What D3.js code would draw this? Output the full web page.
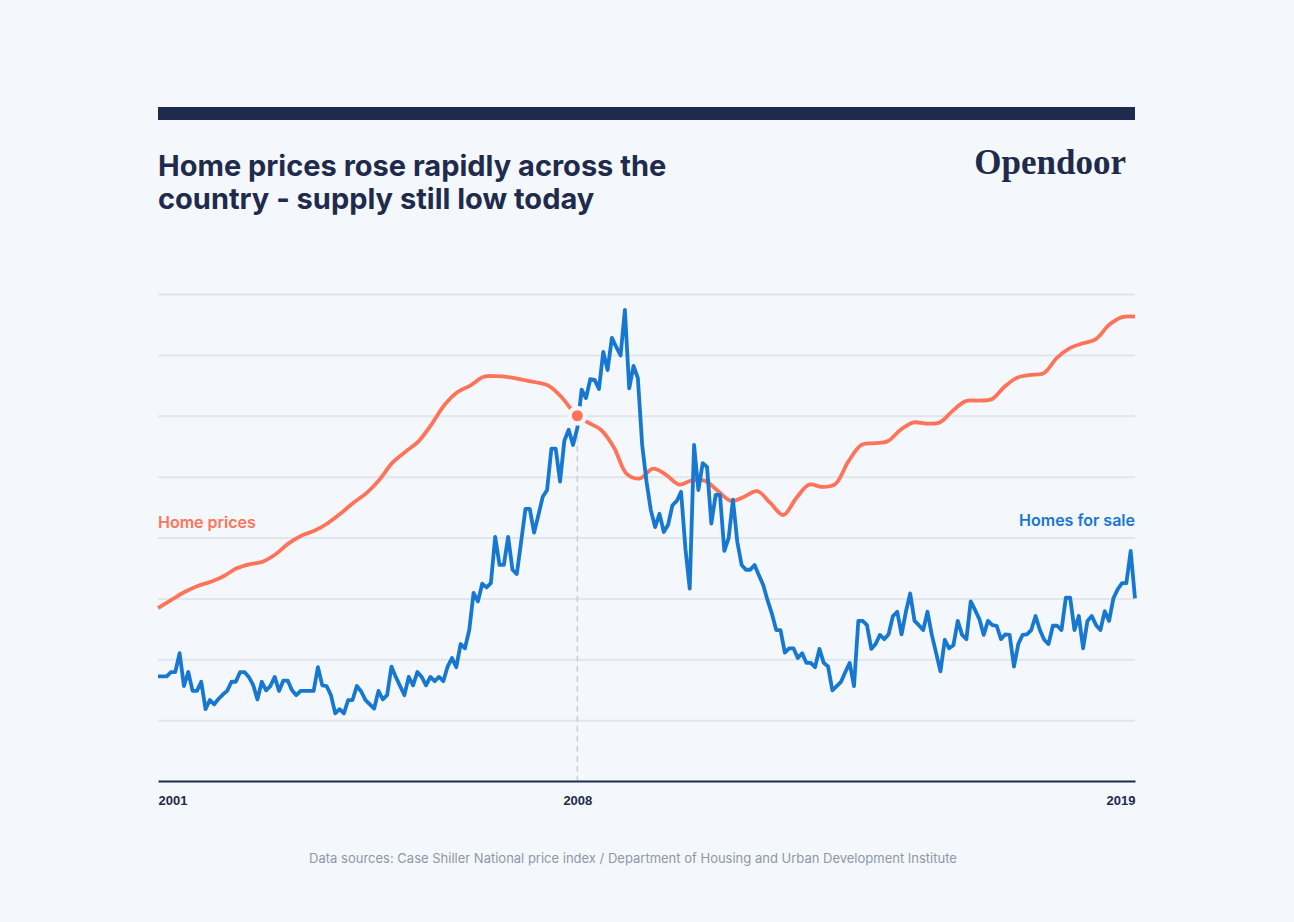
<!DOCTYPE html>
<html>
<head>
<meta charset="utf-8">
<script src="https://cdn.jsdelivr.net/npm/d3@7"></script>
<style>
  body { margin: 0; background: #f4f7fb; }
  svg { display: block; font-family: Inter, "Open Sans", sans-serif; }
</style>
</head>
<body>
<div id="chart"></div>
<script>
// homes for sale (monthly, 2001 -> 2019), arbitrary index units
const homesForSale = [
  17.2, 17.2, 17.2, 17.9, 17.9, 21.0, 15.6, 17.9, 14.8, 14.8,
  16.3, 11.8, 13.3, 12.6, 13.5, 14.2, 14.8, 16.3, 16.3, 17.9,
  17.9, 17.1, 15.8, 13.4, 16.3, 14.9, 15.6, 17.1, 14.8, 16.5,
  16.5, 14.9, 14.1, 14.8, 14.8, 14.8, 14.8, 18.7, 15.7, 15.6,
  14.1, 11.1, 11.8, 11.1, 13.3, 13.3, 15.6, 14.7, 13.3, 12.6,
  11.9, 14.8, 13.4, 14.1, 18.8, 17.1, 15.6, 14.1, 17.1, 15.7,
  17.9, 17.1, 15.7, 17.1, 16.4, 17.1, 16.4, 18.8, 20.2, 18.7,
  22.5, 21.8, 24.8, 30.9, 29.5, 32.4, 31.8, 32.5, 40.1, 35.5,
  35.5, 40.1, 34.7, 34.0, 39.3, 44.7, 44.7, 40.8, 43.7, 46.7,
  47.8, 54.6, 54.6, 49.2, 55.9, 57.7, 55.2, 58.0, 64.3, 62.9,
  66.0, 65.9, 64.4, 70.5, 67.5, 72.8, 71.3, 69.9, 77.4, 64.5,
  68.2, 66.2, 55.2, 49.2, 44.5, 41.7, 43.9, 40.9, 42.1, 45.3,
  46.0, 47.5, 38.2, 31.6, 55.2, 47.8, 52.2, 51.6, 42.3, 47.0,
  47.0, 37.8, 39.9, 46.2, 39.3, 35.5, 34.7, 34.7, 35.5, 33.8,
  32.2, 29.7, 27.5, 24.8, 24.8, 21.1, 21.8, 21.8, 20.2, 21.0,
  19.4, 19.4, 18.7, 21.7, 19.4, 18.8, 14.9, 15.6, 16.3, 17.9,
  19.4, 15.6, 26.3, 26.3, 25.6, 21.7, 22.5, 24.0, 23.3, 24.1,
  27.1, 27.8, 24.1, 27.8, 30.8, 26.3, 25.6, 24.8, 27.8, 24.0,
  21.0, 18.0, 23.2, 21.8, 22.3, 26.3, 24.0, 23.3, 29.5, 28.1,
  26.6, 24.0, 26.3, 25.6, 25.5, 23.3, 24.1, 24.0, 18.8, 22.5,
  24.0, 24.1, 24.8, 27.1, 24.8, 23.2, 22.5, 25.5, 25.5, 24.8,
  30.1, 30.1, 24.8, 27.1, 21.8, 26.3, 27.1, 25.6, 24.8, 27.9,
  26.3, 30.0, 31.5, 32.5, 32.5, 37.8, 30.0
];

// home prices (quarterly, same span)
const homePrices = [
  28.4, 29.7, 31.0, 32.0, 32.7, 33.6, 34.9, 35.6, 36.0, 37.2,
  39.0, 40.3, 41.1, 42.3, 43.9, 45.7, 47.3, 49.5, 52.3, 54.1,
  55.8, 58.6, 61.8, 63.9, 65.0, 66.4, 66.5, 66.3, 65.9, 65.5,
  64.9, 63.0, 60.4, 58.9, 57.7, 54.8, 50.4, 49.7, 51.3, 50.3,
  48.7, 49.4, 49.3, 47.6, 46.0, 46.7, 47.6, 45.7, 43.7, 46.5,
  48.7, 48.3, 48.8, 52.5, 55.2, 55.5, 55.8, 57.7, 58.9, 58.7,
  58.9, 60.8, 62.4, 62.5, 62.7, 64.8, 66.3, 66.7, 67.0, 69.5,
  71.1, 71.9, 72.6, 74.9, 76.2, 76.3
];

const gridValues = [10, 20, 30, 40, 50, 60, 70, 80];
const tickMonths = [0, 97, 226];
const tickLabels = ['2001', '2008', '2019'];
const crossMonth = 97;
const crossValue = 60;

const width = 1294;
const height = 922;
const margin = { left: 158, right: 159, top: 294, bottom: 141 };

const navy = '#1e2b4c';
const coral = '#ff7358';
const blue = '#1778d2';
const bg = '#f4f7fb';

const svg = d3.select('#chart')
  .append('svg')
  .attr('width', width)
  .attr('height', height)
  .style('background', bg);

const xMonth = d3.scaleLinear()
  .domain([0, homesForSale.length - 1])
  .range([margin.left, width - margin.right]);
const xQuarter = d3.scaleLinear()
  .domain([0, homePrices.length - 1])
  .range([margin.left, width - margin.right]);
const y = d3.scaleLinear()
  .domain([0, 80])
  .range([height - margin.bottom, margin.top]);

// top bar
svg.append('rect')
  .attr('x', margin.left)
  .attr('y', 107)
  .attr('width', width - margin.left - margin.right)
  .attr('height', 13)
  .attr('fill', navy);

// title
const title = svg.append('text')
  .attr('x', margin.left)
  .attr('y', 176)
  .attr('fill', navy)
  .style('font-size', '29px')
  .style('font-weight', 700);
title.append('tspan').attr('x', margin.left).text('Home prices rose rapidly across the');
title.append('tspan').attr('x', margin.left).attr('dy', 33).text('country - supply still low today');

// logo
svg.append('text')
  .attr('x', width - margin.right - 9)
  .attr('y', 174)
  .attr('text-anchor', 'end')
  .attr('fill', navy)
  .style('font-family', '"Liberation Serif", serif')
  .style('font-size', '35px')
  .style('font-weight', 700)
  .text('Opendoor');

// gridlines
svg.append('g')
  .attr('class', 'grid')
  .attr('transform', `translate(${margin.left},0)`)
  .call(d3.axisLeft(y).tickValues(gridValues).tickSize(-(width - margin.left - margin.right)).tickFormat(''))
  .call(g => g.select('.domain').remove())
  .call(g => g.selectAll('line').attr('stroke', '#e1e6ee').attr('stroke-width', 2));

// dashed marker for 2008
svg.append('line')
  .attr('x1', xMonth(crossMonth))
  .attr('x2', xMonth(crossMonth))
  .attr('y1', y(crossValue))
  .attr('y2', y(0))
  .attr('stroke', '#c9cfdb')
  .attr('stroke-width', 1.5)
  .attr('stroke-dasharray', '6,4');

// x axis
const xAxis = svg.append('g')
  .attr('transform', `translate(0,${y(0)})`)
  .call(d3.axisBottom(xMonth)
    .tickValues(tickMonths)
    .tickFormat((d, i) => tickLabels[i])
    .tickSize(0)
    .tickSizeOuter(0)
    .tickPadding(15));
xAxis.select('.domain').attr('stroke', navy).attr('stroke-width', 2);
xAxis.selectAll('text')
  .attr('fill', navy)
  .style('font-size', '13px')
  .style('font-weight', 700)
  .attr('text-anchor', (d, i) => (i === 0 ? 'start' : i === tickMonths.length - 1 ? 'end' : 'middle'));

// lines
const priceLine = d3.line()
  .x((d, i) => xQuarter(i))
  .y(d => y(d))
  .curve(d3.curveCatmullRom.alpha(0.5));
const homesLine = d3.line()
  .x((d, i) => xMonth(i))
  .y(d => y(d));

svg.append('path')
  .datum(homePrices)
  .attr('d', priceLine)
  .attr('fill', 'none')
  .attr('stroke', coral)
  .attr('stroke-width', 3.8)
  .attr('stroke-linejoin', 'round');

svg.append('path')
  .datum(homesForSale)
  .attr('d', homesLine)
  .attr('fill', 'none')
  .attr('stroke', blue)
  .attr('stroke-width', 3.8)
  .attr('stroke-linejoin', 'round');

// crossing dot with halo
svg.append('circle')
  .attr('cx', xMonth(crossMonth))
  .attr('cy', y(crossValue))
  .attr('r', 10)
  .attr('fill', bg);
svg.append('circle')
  .attr('cx', xMonth(crossMonth))
  .attr('cy', y(crossValue))
  .attr('r', 5.5)
  .attr('fill', coral);

// series labels
svg.append('text')
  .attr('x', margin.left)
  .attr('y', 528)
  .attr('fill', coral)
  .style('font-size', '16px')
  .style('font-weight', 600)
  .text('Home prices');
svg.append('text')
  .attr('x', width - margin.right)
  .attr('y', 526)
  .attr('text-anchor', 'end')
  .attr('fill', blue)
  .style('font-size', '16px')
  .style('font-weight', 600)
  .text('Homes for sale');

// source
svg.append('text')
  .attr('x', 633)
  .attr('y', 863)
  .attr('text-anchor', 'middle')
  .attr('fill', '#8e97a8')
  .style('font-size', '13px')
  .text('Data sources: Case Shiller National price index / Department of Housing and Urban Development Institute');
</script>
</body>
</html>
